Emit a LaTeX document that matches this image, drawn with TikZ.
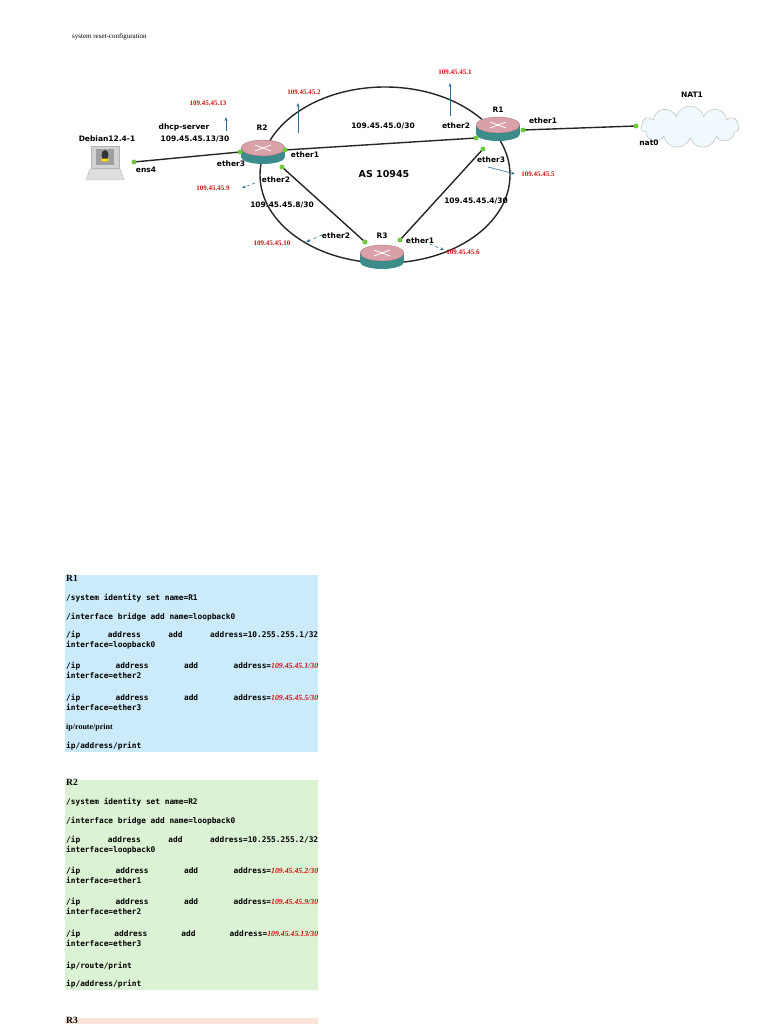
\documentclass[tikz,border=0pt]{standalone}
\usepackage{fontspec}
\setmainfont{Liberation Serif}
\newfontfamily\mono{DejaVu Sans Mono}
\newfontfamily\dsans{DejaVu Sans}
\usetikzlibrary{shapes.symbols,arrows.meta}
\definecolor{ipred}{HTML}{D01010}
\definecolor{arr}{HTML}{2A6F97}
\definecolor{dot}{HTML}{6CCB3A}
\definecolor{bblue}{HTML}{CCEBFA}
\definecolor{bgreen}{HTML}{DCF2D4}
\definecolor{bpeach}{HTML}{FBE3D8}
\definecolor{rpink}{HTML}{D9A0A8}
\definecolor{rteal}{HTML}{3C8C8C}
\begin{document}
\begin{tikzpicture}[x=1pt,y=-1pt,
  lbl/.style={font=\dsans\bfseries\fontsize{7.5}{8}\selectfont,inner sep=0},
  ip/.style={font=\bfseries\fontsize{7}{8}\selectfont,text=ipred,inner sep=0},
  link/.style={line width=1.4pt,black!85},
  ipa/.style={arr,line width=0.6pt,-{Stealth[length=4pt]}},
  pdot/.style={circle,fill=dot,inner sep=0,minimum size=5pt},
  code/.style={font=\mono\bfseries\fontsize{7.8}{9.5}\selectfont,inner sep=0,anchor=north west,text width=252pt,align=justify},
  hd/.style={font=\bfseries\fontsize{9.5}{10}\selectfont,inner sep=0,anchor=north west}]
\useasboundingbox (0,0) rectangle (768,1024);
\node[inner sep=0,anchor=west,font=\fontsize{7}{8}\selectfont] (title) at (72,37) {system reset-configuration};
% big ring
\draw[link] (385,175) ellipse [x radius=125, y radius=88];
% ports
\coordinate (lp) at (134,162); \coordinate (r2e3) at (240,152);
\coordinate (r2e1) at (285,150); \coordinate (r2e2) at (282,167);
\coordinate (r1e2) at (476,138); \coordinate (r1e1) at (523,130);
\coordinate (nat0) at (636,126); \coordinate (r1e3) at (483,149);
\coordinate (r3e2) at (365,242); \coordinate (r3e1) at (400,240);
\draw[link] (lp) -- (r2e3); \draw[link] (r2e1) -- (r1e2);
\draw[link] (r1e1) -- (nat0); \draw[link] (r2e2) -- (r3e2);
\draw[link] (r1e3) -- (r3e1);
% routers
\foreach \n/\x/\y in {R2/263/148,R1/498/125,R3/382/253}{
  \fill[rteal] (\x-22,\y) rectangle (\x+22,\y+9);
  \fill[rteal] (\x,\y+9) ellipse [x radius=22,y radius=7];
  \fill[rpink,draw=rpink!70!black,line width=0.3pt] (\x,\y) ellipse [x radius=22,y radius=8];
  \draw[white,line width=0.8pt] (\x-8,\y-3) -- (\x+8,\y+3) (\x-8,\y+3) -- (\x+8,\y-3);
  \node[inner sep=0] (\n) at (\x,\y+3) {};
}
% laptop
\node[inner sep=0,minimum width=28pt,minimum height=22pt,fill=gray!35,draw=gray!60] (deb) at (105,157) {};
\fill[gray!75] (96,149) rectangle (114,165);
\fill[black!80] (105,155) ellipse [x radius=3.5,y radius=5];
\fill[yellow!80!orange] (105,160) ellipse [x radius=4,y radius=1.5];
\fill[gray!25,draw=gray!60] (90,169) -- (120,169) -- (124,180) -- (86,180) -- cycle;
% cloud
\node[cloud,cloud puffs=11,aspect=2.6,draw=gray!60,fill=cyan!6,minimum width=98pt,minimum height=42pt] (nat) at (690,127) {};
% dots
\foreach \c in {lp,r2e3,r2e1,r2e2,r1e2,r1e1,nat0,r1e3,r3e2,r3e1} \node[pdot] at (\c) {};
% labels
\node[lbl] at (262,128) {R2};
\node[lbl] at (498,110) {R1};
\node[lbl] at (382,236) {R3};
\node[lbl] at (692,95) {NAT1};
\node[lbl] at (184,127) {dhcp-server};
\node[lbl] at (195,139) {109.45.45.13/30};
\node[lbl] at (107,139) {Debian12.4-1};
\node[lbl] at (146,170) {ens4};
\node[lbl] at (231,164) {ether3};
\node[lbl] at (305,155) {ether1};
\node[lbl] at (276,180) {ether2};
\node[lbl] at (383,126) {109.45.45.0/30};
\node[lbl] at (456,126) {ether2};
\node[lbl] at (543,121) {ether1};
\node[lbl] at (649,143) {nat0};
\node[lbl] at (491,160) {ether3};
\node[lbl,font=\dsans\bfseries\fontsize{9.5}{10}\selectfont] at (384,174) {AS 10945};
\node[lbl] at (282,205) {109.45.45.8/30};
\node[lbl] at (476,201) {109.45.45.4/30};
\node[lbl] at (336,236) {ether2};
\node[lbl] at (420,241) {ether1};
% ip labels + arrows
\node[ip] (a13) at (208,103) {109.45.45.13};
\node[ip] (a2) at (304,92) {109.45.45.2};
\node[ip] (a1) at (455,72) {109.45.45.1};
\node[ip] (a5) at (538,174) {109.45.45.5};
\node[ip] (a9) at (213,188) {109.45.45.9};
\node[ip] (a10) at (272,243) {109.45.45.10};
\node[ip] (a6) at (463,252) {109.45.45.6};
\draw[ipa] (226,131) -- (226,117);
\draw[ipa] (298,133) -- (298,103);
\draw[ipa] (450,116) -- (450,83);
\draw[ipa] (488,167) -- (515,174);
\draw[ipa,dashed] (255,183) -- (242,188);
\draw[ipa,dashed] (322,235) -- (306,242);
\draw[ipa,dashed] (430,244) -- (444,250);
% code blocks
\fill[bblue] (65,575) rectangle (318,752);
\fill[bgreen] (65,780) rectangle (318,990);
\fill[bpeach] (65,1018) rectangle (318,1030);
\newcommand{\rip}[1]{{\fontspec{Liberation Serif}\bfseries\itshape\color{ipred}#1}}
\begin{scope}[every node/.style={code}]
\node[hd] (h1) at (66,575) {R1};
\node (c1) at (66,594) {/system identity set name=R1};
\node (c2) at (66,613) {/interface bridge add name=loopback0};
\node (c3) at (66,631) {/ip\hfill address\hfill add\hfill address=10.255.255.1/32\\interface=loopback0};
\node (c4) at (66,662) {/ip\hfill address\hfill add\hfill address=\rip{109.45.45.1/30}\\interface=ether2};
\node (c5) at (66,694) {/ip\hfill address\hfill add\hfill address=\rip{109.45.45.5/30}\\interface=ether3};
\node[hd,font=\bfseries\fontsize{8}{9}\selectfont] (c6) at (66,724) {ip/route/print};
\node (c7) at (66,742) {ip/address/print};
\node[hd] (h2) at (66,779) {R2};
\node (d1) at (66,798) {/system identity set name=R2};
\node (d2) at (66,817) {/interface bridge add name=loopback0};
\node (d3) at (66,836) {/ip\hfill address\hfill add\hfill address=10.255.255.2/32\\interface=loopback0};
\node (d4) at (66,867) {/ip\hfill address\hfill add\hfill address=\rip{109.45.45.2/30}\\interface=ether1};
\node (d5) at (66,898) {/ip\hfill address\hfill add\hfill address=\rip{109.45.45.9/30}\\interface=ether2};
\node (d6) at (66,930) {/ip\hfill address\hfill add\hfill address=\rip{109.45.45.13/30}\\interface=ether3};
\node (d7) at (66,962) {ip/route/print};
\node (d8) at (66,980) {ip/address/print};
\node[hd] (h3) at (66,1017) {R3};
\end{scope}
\end{tikzpicture}
\end{document}
